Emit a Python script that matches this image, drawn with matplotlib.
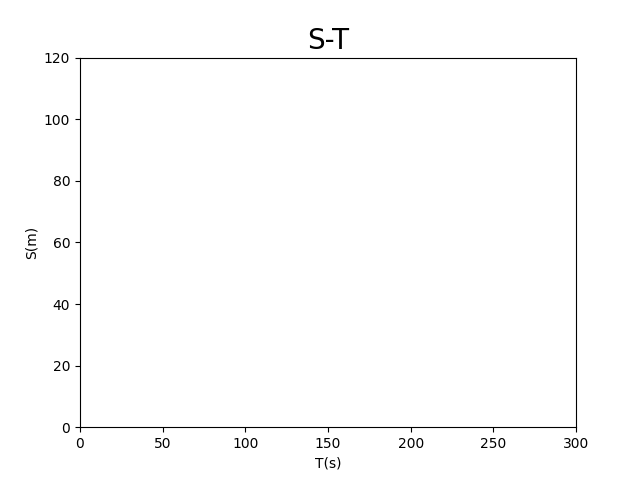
"""Empty S-T (distance vs time) chart."""
import matplotlib
matplotlib.use("Agg")
import matplotlib.pyplot as plt

# no samples recorded yet, so the axes stay empty
T = []
S = []

T_MAX = 300
S_MAX = 120


def main():
    fig, ax = plt.subplots(figsize=(6.4, 4.8))
    ax.plot(T, S)
    ax.set_xlim(0, T_MAX)
    ax.set_ylim(0, S_MAX)
    ax.set_xlabel("T(s)")
    ax.set_ylabel("S(m)")
    ax.set_title("S-T", fontsize=20)
    fig.savefig("out.png", dpi=100)


if __name__ == "__main__":
    main()
